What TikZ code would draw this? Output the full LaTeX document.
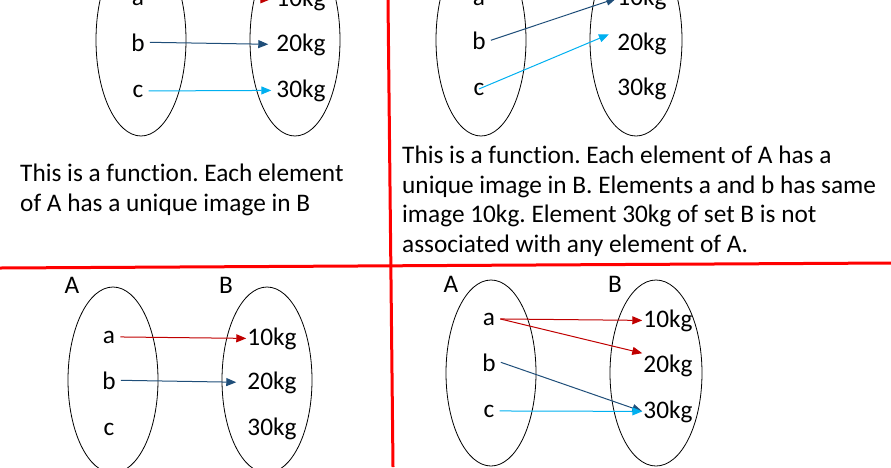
\documentclass[tikz,border=0pt]{standalone}
\usepackage{fontspec}
\setmainfont{Carlito}[Ligatures=NoCommon]
\usepackage{tikz}
\usetikzlibrary{arrows.meta,positioning}
\frenchspacing

\definecolor{maproute}{RGB}{192,0,0}
\definecolor{mapblue}{RGB}{31,78,121}
\definecolor{mapcyan}{RGB}{0,176,240}

\tikzset{
    setoval/.style={draw=black, line width=0.8pt},
    elem/.style={font=\fontsize{25.3}{30}\selectfont, anchor=base, inner sep=5pt},
    weight/.style={font=\fontsize{25.3}{30}\selectfont, anchor=base, inner sep=1pt},
    setname/.style={font=\fontsize{25.3}{30}\selectfont, anchor=base, inner sep=0pt},
    maparrow/.style={line width=1pt, -{Triangle[length=10pt,width=8pt]}},
    remark/.style={font=\fontsize{25.3}{30}\selectfont, align=left, anchor=north west, inner sep=0pt},
    divider/.style={draw=red, line width=3pt}
}

\begin{document}
\begin{tikzpicture}[x=1pt,y=-1pt]
    \useasboundingbox (0,0) rectangle (891,467);
    \clip (0,0) rectangle (891,467);

    % Top left: function
    \draw[setoval] (141,40) ellipse [x radius=45, y radius=96];
    \draw[setoval] (295,40) ellipse [x radius=45, y radius=96];
    \node[elem] (p1a) at (138,5) {a};
    \node[elem] (p1b) at (138,51) {b};
    \node[elem] (p1c) at (138,97) {c};
    \node[weight] (p1ten) at (301,6) {10kg};
    \node[weight] (p1twenty) at (301,51) {20kg};
    \node[weight] (p1thirty) at (301,97) {30kg};
    \draw[maparrow, maproute, shorten >=5pt] (p1a.east) -- (p1ten.west);
    \draw[maparrow, mapblue, shorten >=7pt] (p1b.east) -- (p1twenty.west);
    \draw[maparrow, mapcyan, shorten >=4pt] (p1c.east) -- (p1thirty.west);
    \node[remark] (p1note) at (20,164) {This is a function. Each element\\of A has a unique image in B};

    % Top right: many to one
    \draw[setoval] (481,40) ellipse [x radius=45, y radius=96];
    \draw[setoval] (636,40) ellipse [x radius=46, y radius=96];
    \node[elem] (p2a) at (479,5) {a};
    \node[elem] (p2b) at (479,49) {b};
    \node[elem] (p2c) at (479,95) {c};
    \node[weight] (p2ten) at (642,5) {10kg};
    \node[weight] (p2twenty) at (642,50) {20kg};
    \node[weight] (p2thirty) at (642,95) {30kg};
    \draw[maparrow, mapblue] (p2b.east) -- (p2ten.west);
    \draw[maparrow, mapcyan, shorten >=8pt] (p2c.center) -- (p2twenty.north west);
    \node[remark, font=\fontsize{25.3}{29.6}\selectfont] (p2note) at (402,146) {This is a function. Each element of A has a\\unique image in B. Elements a and b has same\\image 10kg. Element 30kg of set B is not\\associated with any element of A.};

    % Bottom left: c has no image
    \node[setname] (p3A) at (72,293) {A};
    \node[setname] (p3B) at (226,293) {B};
    \draw[setoval] (113,380) ellipse [x radius=45, y radius=93];
    \draw[setoval] (267,380) ellipse [x radius=45, y radius=93];
    \node[elem] (p3a) at (109,343) {a};
    \node[elem] (p3b) at (109,389) {b};
    \node[elem] (p3c) at (109,435) {c};
    \node[weight] (p3ten) at (272,345) {10kg};
    \node[weight] (p3twenty) at (272,389) {20kg};
    \node[weight] (p3thirty) at (272,435) {30kg};
    \draw[maparrow, maproute] (p3a.east) -- (p3ten.west);
    \draw[maparrow, mapblue, shorten >=10pt] (p3b.east) -- (p3twenty.west);

    % Bottom right: a has two images
    \node[setname] (p4A) at (451,292) {A};
    \node[setname] (p4B) at (615,292) {B};
    \draw[setoval] (491,373) ellipse [x radius=45, y radius=93];
    \draw[setoval] (656,373) ellipse [x radius=46, y radius=93];
    \node[elem] (p4a) at (489,325) {a};
    \node[elem] (p4b) at (489,371) {b};
    \node[elem] (p4c) at (489,417) {c};
    \node[weight] (p4ten) at (668,327) {10kg};
    \node[weight] (p4twenty) at (668,372) {20kg};
    \node[weight] (p4thirty) at (668,418) {30kg};
    \draw[maparrow, maproute] (p4a.east) -- (p4ten.west);
    \draw[maparrow, maproute] (p4a.east) -- (p4twenty.north west);
    \draw[maparrow, mapblue] (p4b.east) -- (p4thirty.west);
    \draw[maparrow, mapcyan] (p4c.east) -- (p4thirty.west);

    % Dividers
    \draw[divider] (388,0) -- (393,467);
    \draw[divider] (0,268) -- (891,263);
\end{tikzpicture}
\end{document}
